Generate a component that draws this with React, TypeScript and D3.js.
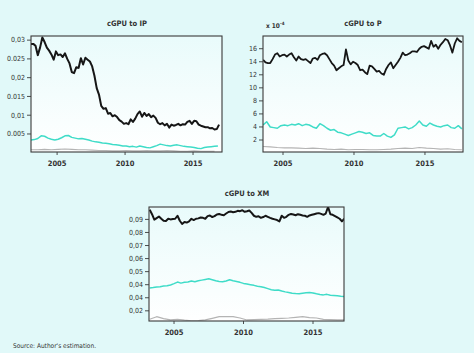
import React from 'react';
import * as d3 from 'd3';

// cGPU to IP (bimonthly black, quarterly cyan, semiannual gray)
const ipStart = 2003.08;
const ipBlack = [
  0.029, 0.029, 0.0285, 0.026, 0.028, 0.0307, 0.0295, 0.028, 0.0272, 0.0262,
  0.0248, 0.027, 0.026, 0.0262, 0.0255, 0.0265, 0.025, 0.0238, 0.0215, 0.0212,
  0.0228, 0.0226, 0.0252, 0.0235, 0.0253, 0.0248, 0.0243, 0.023, 0.0205, 0.0172,
  0.0155, 0.0125, 0.0117, 0.0119, 0.0104, 0.0106, 0.0097, 0.01, 0.0095, 0.0087,
  0.0083, 0.0077, 0.0079, 0.0076, 0.0089, 0.0082, 0.0091, 0.0103, 0.011, 0.0096,
  0.0106, 0.0098, 0.0103, 0.0095, 0.0099, 0.0093, 0.008, 0.0076, 0.0079, 0.0073,
  0.0077, 0.0067, 0.0075, 0.0072, 0.0074, 0.0077, 0.0073, 0.0076, 0.0075, 0.0082,
  0.0085, 0.0077, 0.0085, 0.0084, 0.0075, 0.0072, 0.007, 0.0068, 0.0068, 0.0065,
  0.0066, 0.0062, 0.0063, 0.0075,
];
const ipCyan = [
  0.0034, 0.0035, 0.0038, 0.0045, 0.0044, 0.0039, 0.0036, 0.0034, 0.0036, 0.004,
  0.0045, 0.0046, 0.0041, 0.0039, 0.0037, 0.0038, 0.0036, 0.0034, 0.0031, 0.0029,
  0.0028, 0.0026, 0.0025, 0.0024, 0.0022, 0.0021, 0.002, 0.0018, 0.0018, 0.0016,
  0.0017, 0.0015, 0.0018, 0.0016, 0.0014, 0.0013, 0.0016, 0.0019, 0.0023, 0.0021,
  0.0019, 0.0018, 0.002, 0.0021, 0.0019, 0.0017, 0.0016, 0.0015, 0.0014, 0.0012,
  0.0011, 0.0014, 0.0015, 0.0016, 0.0017, 0.0018,
];
const ipGray = [
  0.0008, 0.0008, 0.0009, 0.0008, 0.0009, 0.001, 0.0009, 0.0008, 0.0008, 0.0007,
  0.0006, 0.0006, 0.0005, 0.0005, 0.0006, 0.0005, 0.0005, 0.0006, 0.0005, 0.0005,
  0.0006, 0.0005, 0.0004, 0.0004, 0.0005, 0.0004, 0.0004, 0.0004,
];
const ipTicks = [0.005, 0.01, 0.015, 0.02, 0.025, 0.03];
const ipTickLabels = ['0.005', '0,01', '0.015', '0,02', '0.025', '0,03'];

// cGPU to P (x 10^-4)
const pStart = 2003.6;
const pBlack = [
  14.3, 13.9, 13.8, 13.8, 14.4, 15.1, 15.3, 14.8, 15.0, 15.1,
  14.8, 15.1, 15.3, 14.7, 14.2, 14.8, 14.4, 14.3, 14.4, 14.1,
  13.8, 14.5, 14.6, 14.3, 15.0, 15.2, 15.3, 15.0, 14.4, 13.8,
  13.4, 12.7, 13.0, 13.3, 13.5, 15.9, 14.2, 13.6, 14.0, 13.8,
  13.5, 12.7, 12.8, 12.4, 12.1, 13.4, 13.3, 12.9, 12.5, 12.6,
  12.2, 12.0, 12.9, 13.5, 13.9, 13.0, 13.5, 14.0, 14.6, 15.4,
  15.0, 15.1, 15.3, 15.6, 15.6, 15.5, 16.0, 16.3, 16.4, 16.2,
  16.0, 17.2, 16.3, 16.6, 16.0, 16.6, 17.0, 17.5, 17.3, 16.5,
  15.4, 16.8, 17.6, 17.2, 17.0,
];
const pCyan = [
  4.3, 4.8, 4.0, 3.9, 3.8, 4.2, 4.3, 4.2, 4.4, 4.3,
  4.5, 4.2, 4.4, 4.3, 4.0, 3.8, 4.5, 4.2, 3.8, 3.5,
  3.6, 3.2, 3.1, 2.9, 2.7, 2.9, 3.1, 3.3, 3.2, 3.0,
  3.1, 2.7, 2.6, 2.6, 3.0, 2.6, 2.4, 2.8, 3.8, 3.9,
  4.0, 3.7, 3.9, 4.3, 4.9, 4.3, 4.1, 4.6, 4.3, 4.1,
  4.0, 4.2, 4.3, 3.9, 3.8, 4.2, 3.7,
];
const pGray = [
  1.0, 0.95, 0.85, 0.8, 0.8, 0.75, 0.7, 0.75, 0.7, 0.6,
  0.55, 0.6, 0.5, 0.55, 0.55, 0.5, 0.5, 0.55, 0.6, 0.7,
  0.75, 0.7, 0.85, 0.75, 0.7, 0.6, 0.65, 0.55, 0.5,
];
const pTicks = [2, 4, 6, 8, 10, 12, 14, 16];
const pTickLabels = ['2', '4', '6', '8', '10', '12', '14', '16'];

// cGPU to XM
const xmStart = 2003.25;
const xmBlack = [
  0.0975, 0.094, 0.0898, 0.091, 0.0922, 0.0905, 0.089, 0.0888, 0.0905, 0.09,
  0.0903, 0.0905, 0.0928, 0.089, 0.0865, 0.088, 0.0876, 0.0885, 0.0905, 0.0895,
  0.0905, 0.0908, 0.0915, 0.0912, 0.0905, 0.0925, 0.093, 0.0918, 0.0925, 0.0938,
  0.0942, 0.0935, 0.0932, 0.0945, 0.0957, 0.096, 0.0955, 0.0958, 0.0966, 0.0963,
  0.097, 0.0958, 0.0962, 0.0968, 0.095, 0.0928, 0.092, 0.0924, 0.0912, 0.0918,
  0.0928, 0.092, 0.0912, 0.0905, 0.09, 0.0895, 0.0885, 0.0928, 0.0912, 0.092,
  0.0935, 0.0942, 0.0938, 0.0932, 0.094, 0.0935, 0.093, 0.0928, 0.092, 0.093,
  0.0935, 0.094, 0.0945, 0.0948, 0.0942, 0.0935, 0.0945, 0.0995, 0.094, 0.0935,
  0.0925, 0.0915, 0.0905, 0.0885, 0.0905,
];
const xmCyan = [
  0.0375, 0.0378, 0.0382, 0.0385, 0.039, 0.0392, 0.0398, 0.0408, 0.042, 0.0412,
  0.0418, 0.042, 0.0428, 0.0422, 0.043, 0.0435, 0.044, 0.0445, 0.0438, 0.043,
  0.0425, 0.0422, 0.0428, 0.0438, 0.043, 0.0425, 0.0418, 0.041, 0.0405, 0.04,
  0.0395, 0.0388, 0.0385, 0.0378, 0.037, 0.0362, 0.0358, 0.036, 0.0352, 0.0345,
  0.034, 0.0335, 0.0332, 0.033, 0.0335, 0.0338, 0.034, 0.0336, 0.033, 0.0325,
  0.0322, 0.0326, 0.032, 0.0318, 0.0315, 0.0312, 0.031,
];
const xmGray = [
  0.0135, 0.0155, 0.014, 0.013, 0.0135, 0.0128, 0.0124, 0.0125, 0.013, 0.0142,
  0.0155, 0.0156, 0.0155, 0.0145, 0.013, 0.0132, 0.0135, 0.0136, 0.014, 0.0142,
  0.0145, 0.015, 0.0155, 0.0148, 0.0145, 0.0135, 0.0132, 0.013, 0.013,
];
const xmTicks = [0.02, 0.03, 0.04, 0.05, 0.06, 0.07, 0.08, 0.09];
const xmTickLabels = ['0,02', '0,04', '0,04', '0,05', '0,06', '0,07', '0,08', '0,09'];

const yearTicks = [2005, 2010, 2015];

const FONT = "'Liberation Sans Narrow', 'DejaVu Sans Condensed', 'Liberation Sans', Arial, sans-serif";
const BG = '#e1f9f9';
const BLACK = '#161616';
const CYAN = '#3fdcc8';
const GRAY = '#b4b4b4';

type Pt = [number, number];
const toPoints = (start: number, step: number, vals: number[]): Pt[] =>
  vals.map((v, i) => [start + i * step, v]);

interface PanelProps {
  id: string;
  title: string;
  titleX: number;
  titleY: number;
  box: { x0: number; x1: number; y0: number; y1: number };
  xDomain: [number, number];
  yDomain: [number, number];
  ticks: number[];
  tickLabels: string[];
  series: { pts: Pt[]; color: string; width: number }[];
}

function Panel({ id, title, titleX, titleY, box, xDomain, yDomain, ticks, tickLabels, series }: PanelProps) {
  const x = d3.scaleLinear().domain(xDomain).range([box.x0, box.x1]);
  const y = d3.scaleLinear().domain(yDomain).range([box.y1, box.y0]);
  const line = d3.line<Pt>().x(d => x(d[0])).y(d => y(d[1]));

  return (
    <g>
      <defs>
        <clipPath id={`clip-${id}`}>
          <rect x={box.x0} y={box.y0} width={box.x1 - box.x0} height={box.y1 - box.y0} />
        </clipPath>
      </defs>
      <rect x={box.x0} y={box.y0} width={box.x1 - box.x0} height={box.y1 - box.y0} fill="url(#plotGrad)" />
      <text x={titleX} y={titleY} textAnchor="middle" fontSize={7.5} fontWeight="bold" fill="#333">{title}</text>

      <g clipPath={`url(#clip-${id})`}>
        {series.map((s, i) => (
          <path key={i} d={line(s.pts) || ''} fill="none" stroke={s.color} strokeWidth={s.width} strokeLinejoin="round" />
        ))}
      </g>

      <rect x={box.x0} y={box.y0} width={box.x1 - box.x0} height={box.y1 - box.y0} fill="none" stroke="#3a3a3a" strokeWidth={1.1} />

      {/* y axis */}
      {ticks.map((t, i) => (
        <g key={i} transform={`translate(${box.x0},${y(t)})`}>
          <line x1={-4} x2={0} stroke="#3a3a3a" strokeWidth={0.9} />
          <text x={-6} dy="0.33em" textAnchor="end" fontSize={7} fill="#333">{tickLabels[i]}</text>
        </g>
      ))}

      {/* x axis */}
      {yearTicks.map(t => (
        <g key={t} transform={`translate(${x(t)},${box.y1})`}>
          <line y1={0} y2={3} stroke="#3a3a3a" strokeWidth={0.9} />
          <text y={14} textAnchor="middle" fontSize={7.5} fontWeight="bold" fill="#333">{t}</text>
        </g>
      ))}
    </g>
  );
}

export default function App() {
  return (
    <div style={{ position: 'fixed', left: 0, top: 0, width: 474, height: 353, background: BG }}>
      <svg width={474} height={353} style={{ display: 'block', fontFamily: FONT }}>
        <defs>
          <linearGradient id="plotGrad" x1="0" y1="0" x2="0" y2="1">
            <stop offset="0%" stopColor="#e9fbfb" />
            <stop offset="100%" stopColor="#ffffff" />
          </linearGradient>
        </defs>
        <rect width={474} height={353} fill={BG} />

        <Panel
          id="ip"
          title="cGPU to IP"
          titleX={127}
          titleY={26}
          box={{ x0: 31, x1: 222, y0: 36, y1: 152 }}
          xDomain={[2003.08, 2017.13]}
          yDomain={[0.0002, 0.0311]}
          ticks={ipTicks}
          tickLabels={ipTickLabels}
          series={[
            { pts: toPoints(ipStart, 0.25, ipCyan), color: CYAN, width: 1.5 },
            { pts: toPoints(ipStart, 0.5, ipGray), color: GRAY, width: 1.1 },
            { pts: toPoints(ipStart, 1 / 6, ipBlack), color: BLACK, width: 2 },
          ]}
        />

        <Panel
          id="p"
          title="cGPU to P"
          titleX={363}
          titleY={26}
          box={{ x0: 263, x1: 463, y0: 36, y1: 152 }}
          xDomain={[2003.59, 2017.68]}
          yDomain={[0.16, 17.95]}
          ticks={pTicks}
          tickLabels={pTickLabels}
          series={[
            { pts: toPoints(pStart, 0.25, pCyan), color: CYAN, width: 1.5 },
            { pts: toPoints(pStart, 0.5, pGray), color: GRAY, width: 1.1 },
            { pts: toPoints(pStart, 1 / 6, pBlack), color: BLACK, width: 1.8 },
          ]}
        />
        <text x={266} y={28} fontSize={6.5} fontWeight="bold" fill="#333">
          x 10<tspan dy={-3} fontSize={4.5}>-4</tspan>
        </text>

        <Panel
          id="xm"
          title="cGPU to XM"
          titleX={247}
          titleY={196}
          box={{ x0: 149, x1: 344, y0: 207, y1: 321 }}
          xDomain={[2003.2, 2017.23]}
          yDomain={[0.0122, 0.0995]}
          ticks={xmTicks}
          tickLabels={xmTickLabels}
          series={[
            { pts: toPoints(xmStart, 0.25, xmCyan), color: CYAN, width: 1.5 },
            { pts: toPoints(xmStart, 0.5, xmGray), color: GRAY, width: 1.2 },
            { pts: toPoints(xmStart, 1 / 6, xmBlack), color: BLACK, width: 2 },
          ]}
        />

        <text x={13} y={348} fontSize={6.5} fill="#333">Source: Author's estimation.</text>
      </svg>
    </div>
  );
}
